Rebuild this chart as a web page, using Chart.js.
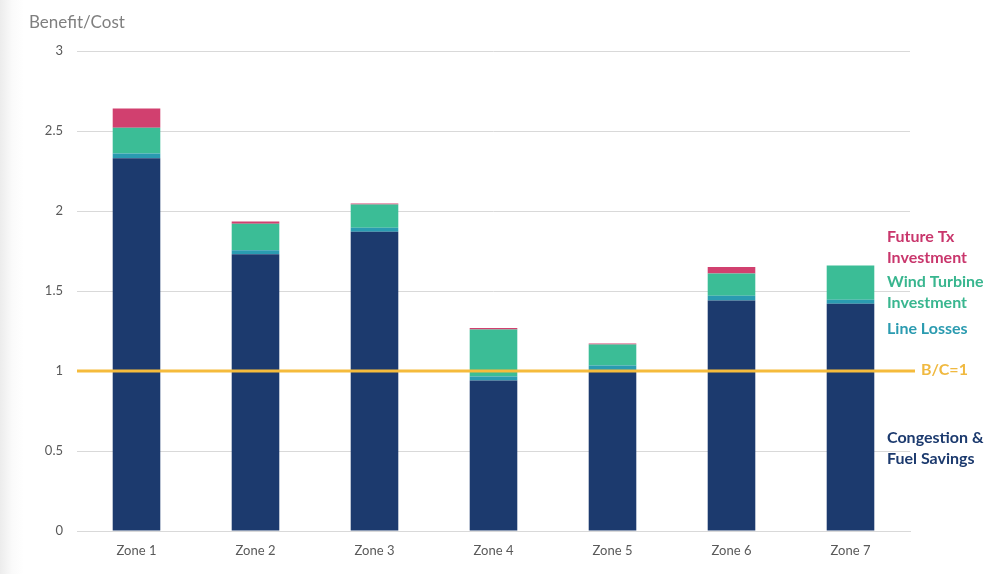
<!DOCTYPE html>
<html>
<head>
<meta charset="utf-8">
<script src="https://cdn.jsdelivr.net/npm/chart.js@4/dist/chart.umd.min.js"></script>
<style>
  html, body { margin: 0; padding: 0; }
  body {
    width: 1000px; height: 574px; overflow: hidden;
    background: linear-gradient(to right, #ececec 0px, #fafafa 12px, #ffffff 24px);
  }
  #wrap { position: relative; width: 1000px; height: 574px; }
</style>
</head>
<body>
<div id="wrap"><canvas id="bcChart"></canvas></div>
<script>
// data
const zones = ["Zone 1", "Zone 2", "Zone 3", "Zone 4", "Zone 5", "Zone 6", "Zone 7"];
const congestion = [2.33, 1.73, 1.87, 0.94, 0.995, 1.44, 1.42];
const lineLosses = [0.03, 0.025, 0.025, 0.025, 0.04, 0.03, 0.025];
const windTurbine = [0.16, 0.165, 0.145, 0.295, 0.13, 0.14, 0.215];
const futureTx = [0.12, 0.015, 0.007, 0.008, 0.007, 0.04, 0];
const yTicks = [0, 0.5, 1, 1.5, 2, 2.5, 3];
const breakEven = 1;

const FONT = "Lato, 'Open Sans', sans-serif";

/* side labels, title and the B/C=1 line */
const extras = {
    id: "extras",
    afterDatasetsDraw(chart) {
        const { ctx, chartArea, scales } = chart;
        const y1 = scales.y.getPixelForValue(breakEven);

        ctx.save();
        ctx.strokeStyle = "#f5bb3c";
        ctx.lineWidth = 3;
        ctx.beginPath();
        ctx.moveTo(chartArea.left, y1);
        ctx.lineTo(chartArea.right + 5, y1);
        ctx.stroke();

        ctx.font = "bold 16px " + FONT;
        ctx.textBaseline = "middle";
        ctx.textAlign = "left";
        ctx.fillStyle = "#f0b940";
        ctx.fillText("B/C=1", 921, y1 - 1);

        const x = 887;
        ctx.fillStyle = "#c9366c";
        ctx.fillText("Future Tx", x, 237);
        ctx.fillText("Investment", x, 258);
        ctx.fillStyle = "#39b68f";
        ctx.fillText("Wind Turbine", x, 282);
        ctx.fillText("Investment", x, 303);
        ctx.fillStyle = "#2b9bb0";
        ctx.fillText("Line Losses", x, 329);
        ctx.fillStyle = "#1c3a6e";
        ctx.fillText("Congestion &", x, 438);
        ctx.fillText("Fuel Savings", x, 459);

        ctx.font = "17px " + FONT;
        ctx.fillStyle = "#7f7f7f";
        ctx.fillText("Benefit/Cost", 29, 23);
        ctx.restore();
    }
};

const stack = (label, data, color) => ({
    label, data, backgroundColor: color, borderWidth: 0,
    barPercentage: 0.4, categoryPercentage: 1.0, stack: "bc"
});

new Chart(document.getElementById("bcChart"), {
    type: "bar",
    data: {
        labels: zones,
        datasets: [
            stack("Congestion & Fuel Savings", congestion, "#1c3a6e"),
            stack("Line Losses", lineLosses, "#2a9bb1"),
            stack("Wind Turbine Investment", windTurbine, "#3bbd96"),
            stack("Future Tx Investment", futureTx, "#d1406f")
        ]
    },
    options: {
        responsive: true,
        maintainAspectRatio: false,
        animation: false,
        layout: { padding: { top: 51, right: 90, left: 0, bottom: 0 } },
        plugins: { legend: { display: false }, tooltip: { enabled: false } },
        scales: {
            x: {
                stacked: true,
                grid: { display: false, drawTicks: false },
                border: { color: "#d9d9d9", width: 1 },
                ticks: { color: "#595959", font: { family: FONT, size: 13 }, padding: 12 },
                afterFit(s) { s.height = 43; }
            },
            y: {
                stacked: true,
                min: 0, max: 3,
                afterBuildTicks(s) { s.ticks = yTicks.map(v => ({ value: v })); },
                grid: { color: "#d9d9d9", lineWidth: 1, drawTicks: false },
                border: { display: false },
                ticks: {
                    color: "#595959", font: { family: FONT, size: 13 }, padding: 14,
                    callback: v => String(v)
                },
                afterFit(s) { s.width = 77; }
            }
        }
    },
    plugins: [extras]
});
</script>
</body>
</html>
